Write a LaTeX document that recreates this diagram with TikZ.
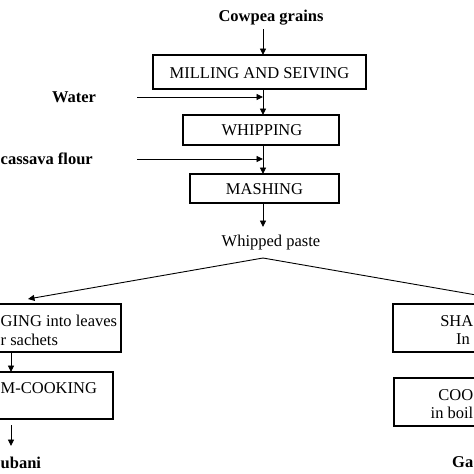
\documentclass[tikz,border=0pt]{standalone}
\usepackage{fontspec}
\setmainfont{Liberation Serif}
\usetikzlibrary{arrows.meta}
\begin{document}
\begin{tikzpicture}[x=1pt,y=-1pt,
  txt/.style={inner sep=0pt,font=\fontsize{16.5}{19}\selectfont},
  btxt/.style={inner sep=0pt,font=\fontsize{16.5}{19}\selectfont\bfseries},
  stepbox/.style={draw,line width=1.1pt,inner sep=0pt},
  arr/.style={line width=0.9pt,-{Triangle[length=6.5pt,width=6pt]}},
  ln/.style={line width=0.9pt}]
\useasboundingbox (0,0) rectangle (474,474);
\clip (0,0) rectangle (474,474);
% top chain
\node[btxt,anchor=base] (cow) at (271,21) {Cowpea grains};
\node[stepbox,minimum width=213pt,minimum height=34pt] (mill) at (259.5,72) {};
\node[txt,anchor=base] (millt) at (259.5,78) {MILLING AND SEIVING};
\node[stepbox,minimum width=156pt,minimum height=30pt] (whip) at (261,130) {};
\node[txt,anchor=base] (whipt) at (262,135) {WHIPPING};
\node[stepbox,minimum width=149pt,minimum height=29pt] (mash) at (264.5,188.5) {};
\node[txt,anchor=base] (masht) at (264.5,194) {MASHING};
\node[txt,anchor=base] (paste) at (271,246) {Whipped paste};
\node[btxt,anchor=base] (water) at (74,102) {Water};
\node[btxt,anchor=base west] (cass) at (0.5,164) {cassava flour};
\coordinate (ax0) at (263,29);
\coordinate (ax1) at (263,55);
\coordinate (ax2) at (263,89);
\coordinate (ax3) at (263,115);
\coordinate (ax4) at (263,145);
\coordinate (ax5) at (263,174);
\coordinate (ax6) at (263,203);
\coordinate (ax7) at (263,227);
\coordinate (w0) at (137,97);
\coordinate (w1) at (263,97);
\coordinate (c0) at (137,159);
\coordinate (c1) at (263,159);
\coordinate (apex) at (263,258);
\coordinate (lend) at (28,299);
\coordinate (rend) at (505,300);
\draw[arr] (ax0) -- (ax1);
\draw[arr] (ax2) -- (ax3);
\draw[arr] (w0) -- (w1);
\draw[arr] (ax4) -- (ax5);
\draw[arr] (c0) -- (c1);
\draw[arr] (ax6) -- (ax7);
\draw[arr] (apex) -- (lend);
\draw[arr] (apex) -- (rend);
% left branch
\node[stepbox,minimum width=141pt,minimum height=48pt] (lb1) at (50.5,328) {};
\node[txt,anchor=base west] (lb1a) at (0.5,326) {GING into leaves};
\node[txt,anchor=base west] (lb1b) at (0.5,345) {r sachets};
\node[stepbox,minimum width=133pt,minimum height=47pt] (lb2) at (46.5,395.5) {};
\node[txt,anchor=base west] (lb2a) at (0.5,393) {M-COOKING};
\node[btxt,anchor=base west] (ub) at (0.5,468) {ubani};
\coordinate (l0) at (11,352);
\coordinate (l1) at (11,372);
\coordinate (l2) at (11,425);
\coordinate (l3) at (11,446);
\draw[arr] (l0) -- (l1);
\draw[arr] (l2) -- (l3);
% right branch
\node[stepbox,minimum width=100pt,minimum height=48pt] (rb1) at (443,328) {};
\node[txt,anchor=base east] (rb1a) at (473.5,326) {SHA};
\node[txt,anchor=base west] (rb1b) at (456,344) {In};
\node[stepbox,minimum width=100pt,minimum height=48pt] (rb2) at (444,402) {};
\node[txt,anchor=base east] (rb2a) at (473.5,400) {COO};
\node[txt,anchor=base east] (rb2b) at (473.5,418) {in boil};
\node[btxt,anchor=base east] (ga) at (473.5,467) {Ga};
\end{tikzpicture}
\end{document}
